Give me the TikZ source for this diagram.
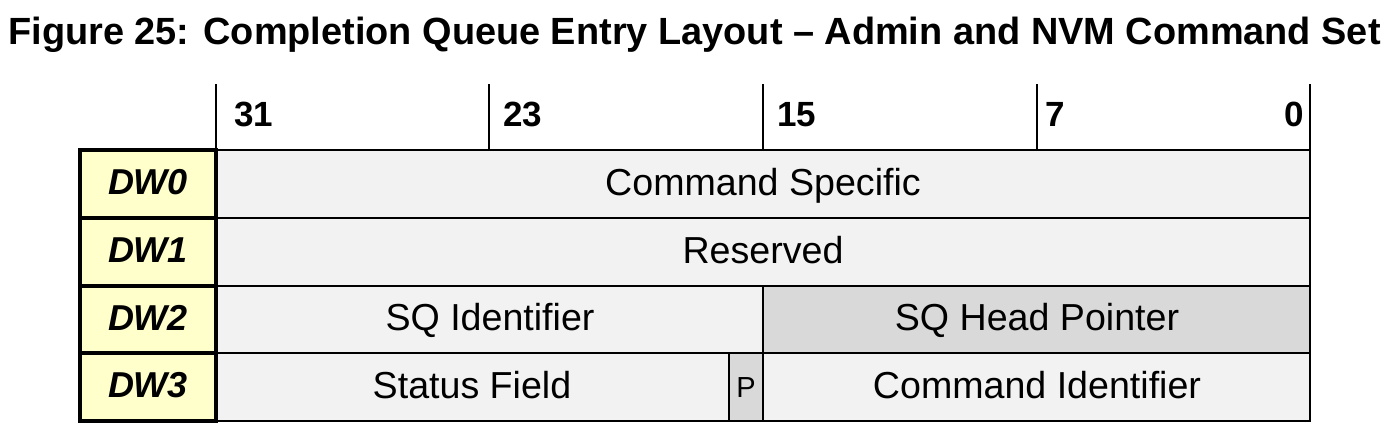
\documentclass[tikz,border=0pt]{standalone}
\usepackage{fontspec}
\setmainfont{Liberation Sans}
\definecolor{cellgray}{HTML}{F2F2F2}
\definecolor{darkcell}{HTML}{D9D9D9}
\definecolor{dwyellow}{HTML}{FFFFCC}
\begin{document}
\begin{tikzpicture}[x=0.5pt,y=-0.5pt,
  cell/.style={draw=black,line width=0.8pt,fill=cellgray},
  dark/.style={draw=black,line width=0.8pt,fill=darkcell},
  dwbox/.style={draw=black,line width=1.8pt,fill=dwyellow},
  txt/.style={font=\fontsize{18.8}{20}\selectfont,inner sep=0pt,anchor=base},
  dwtxt/.style={font=\fontsize{18}{20}\selectfont\bfseries\itshape,inner sep=0pt,anchor=base},
  bit/.style={font=\fontsize{17.5}{20}\selectfont\bfseries,inner sep=0pt,anchor=base west}]
\useasboundingbox (0,0) rectangle (1391,435);
\node[font=\fontsize{18.95}{20}\selectfont\bfseries,anchor=base west,inner sep=0pt] (title) at (8,44)
  {Figure 25: Completion Queue Entry Layout -- Admin and NVM Command Set};
% bit ruler
\foreach \x in {216,489,763,1037,1310}
  \draw[line width=0.8pt] (\x,84) -- (\x,150);
\node[bit] (b31) at (234,126) {31};
\node[bit] (b23) at (503,126) {23};
\node[bit] (b15) at (777,126) {15};
\node[bit] (b7) at (1045,126) {7};
\node[bit,anchor=base east] (b0) at (1304,126) {0};
% fields
\draw[cell] (216,150) rectangle (1310,218);
\draw[cell] (216,218) rectangle (1310,286);
\draw[cell] (216,286) rectangle (763,353);
\draw[dark] (763,286) rectangle (1310,353);
\draw[cell] (216,353) rectangle (729,421);
\draw[dark] (729,353) rectangle (763,421);
\draw[cell] (763,353) rectangle (1310,421);
\node[txt] (cspec) at (763,195) {Command Specific};
\node[txt] (rsvd) at (763,263) {Reserved};
\node[txt] (sqid) at (490,330) {SQ Identifier};
\node[txt] (sqhd) at (1037,330) {SQ Head Pointer};
\node[txt] (sts) at (472,398) {Status Field};
\node[txt,font=\fontsize{14.5}{16}\selectfont] (ph) at (746,397) {P};
\node[txt] (cid) at (1037,398) {Command Identifier};
% dword labels
\foreach \r/\y in {0/150,1/218,2/286,3/353}{
  \draw[dwbox] (80,\y) rectangle (216,\y+68);
  \node[dwtxt] (dw\r) at (148,\y+44) {DW\r};
}
\end{tikzpicture}
\end{document}
